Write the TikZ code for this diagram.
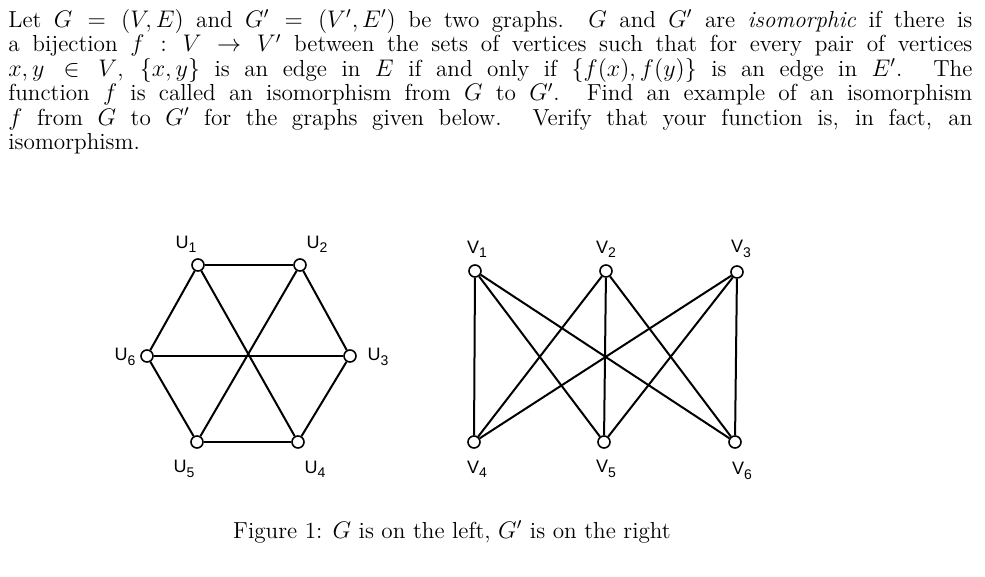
\documentclass[tikz,border=0pt]{standalone}
\usepackage{amsmath}
\usepackage{fontspec}
\newfontfamily\lblfont{Liberation Sans}
\usepackage{tikz}
\usetikzlibrary{positioning,backgrounds}

\newcommand{\vlbl}[2]{{\lblfont #1\raisebox{-0.45ex}{\scriptsize #2}}}

\begin{document}
\begin{tikzpicture}[x=0.5pt,y=-0.5pt,
	vtx/.style={circle,draw,fill=white,line width=0.8pt,inner sep=0pt,minimum size=6pt},
	lbl/.style={inner sep=1pt,font=\small},
	edge/.style={line width=1pt}]
	
	\useasboundingbox (0,0) rectangle (985,577);
	
	% problem text
	\node[anchor=north west,inner sep=0pt,text width=482pt,align=justify,
		font=\fontsize{11.6}{12.25}\selectfont] (txt) at (8,9) {%
		Let $G=(V,E)$ and $G'=(V',E')$ be two graphs. $G$ and $G'$ are \emph{isomorphic} if there is\linebreak
		a bijection $f:V\rightarrow V'$ between the sets of vertices such that for every pair of vertices\linebreak
		$x,y\in V$, $\{x,y\}$ is an edge in $E$ if and only if $\{f(x),f(y)\}$ is an edge in $E'$. The\linebreak
		function $f$ is called an isomorphism from $G$ to $G'$. Find an example of an isomorphism\linebreak
		$f$ from $G$ to $G'$ for the graphs given below. Verify that your function is, in fact, an\linebreak
		isomorphism.};
	
	% graph G
	\node[vtx] (u1) at (198,265) {};
	\node[vtx] (u2) at (300,265) {};
	\node[vtx] (u3) at (350,356) {};
	\node[vtx] (u4) at (298,442) {};
	\node[vtx] (u5) at (197,442) {};
	\node[vtx] (u6) at (147,356) {};
	
	% graph G'
	\node[vtx] (v1) at (475,271) {};
	\node[vtx] (v2) at (606,271) {};
	\node[vtx] (v3) at (737,272) {};
	\node[vtx] (v4) at (474,442) {};
	\node[vtx] (v5) at (604,442) {};
	\node[vtx] (v6) at (735,442) {};
	
	\begin{scope}[on background layer]
	\foreach \a/\b in {u1/u2,u2/u3,u3/u4,u4/u5,u5/u6,u6/u1,u1/u4,u2/u5,u3/u6}
		\draw[edge] (\a) -- (\b);
	\foreach \a in {v1,v2,v3}
		\foreach \b in {v4,v5,v6}
			\draw[edge] (\a) -- (\b);
	\end{scope}
	
	% labels
	\node[lbl] (lu1) at (186,244) {\vlbl{U}{1}};
	\node[lbl] (lu2) at (317,244) {\vlbl{U}{2}};
	\node[lbl] (lu3) at (378,357) {\vlbl{U}{3}};
	\node[lbl] (lu4) at (315,469) {\vlbl{U}{4}};
	\node[lbl] (lu5) at (184,469) {\vlbl{U}{5}};
	\node[lbl] (lu6) at (125,357) {\vlbl{U}{6}};
	
	\node[lbl] (lv1) at (477,249) {\vlbl{V}{1}};
	\node[lbl] (lv2) at (606,249) {\vlbl{V}{2}};
	\node[lbl] (lv3) at (741,249) {\vlbl{V}{3}};
	\node[lbl] (lv4) at (477,469) {\vlbl{V}{4}};
	\node[lbl] (lv5) at (606,469) {\vlbl{V}{5}};
	\node[lbl] (lv6) at (742,471) {\vlbl{V}{6}};
	
	% caption
	\node[font=\fontsize{11.6}{12.25}\selectfont] (cap) at (452,532) {Figure 1: $G$ is on the left, $G'$ is on the right};
	
\end{tikzpicture}
\end{document}
